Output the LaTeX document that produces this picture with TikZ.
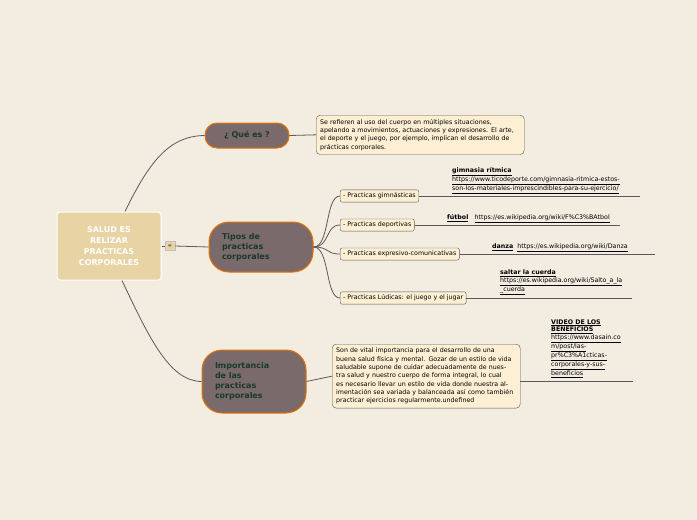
\documentclass[tikz,border=0pt]{standalone}
\usepackage{fontspec}
\setmainfont{DejaVu Sans}
\begin{document}
\begin{tikzpicture}[x=1pt,y=-1pt,
 conn/.style={draw=gray!70!black,line width=0.8pt},
 main/.style={draw=orange!90!black,line width=1pt,fill=mauve,rounded corners=12pt,text=dgreen,font=\fontsize{8}{10}\selectfont\bfseries,align=left,inner sep=0pt},
 note/.style={draw=gray!70!black,fill=notefill,rounded corners=4pt,font=\fontsize{6.3}{8.3}\selectfont,align=left,inner sep=4pt,text width=#1},
 sub/.style={draw=gray!70!black,fill=notefill,rounded corners=2pt,font=\fontsize{6.3}{8}\selectfont,inner sep=3pt,anchor=west},
 lnk/.style={font=\fontsize{6.3}{7.6}\selectfont,align=left,anchor=south west,inner sep=1pt}]
\definecolor{mauve}{HTML}{7B6A6C}
\definecolor{dgreen}{HTML}{173A2C}
\definecolor{notefill}{HTML}{FCEFD3}
\definecolor{bg}{HTML}{F3EDE1}
\useasboundingbox[fill=bg] (0,0) rectangle (697,520);
% central
\node[draw=white,line width=1pt,fill={rgb,255:red,232;green,211;blue,165},rounded corners=3pt,minimum width=104pt,minimum height=68pt,text=white,font=\fontsize{8}{11}\selectfont\bfseries,align=center] (c) at (109,246) {SALUD ES\\RELIZAR\\PRACTICAS\\CORPORALES};
\node[draw=gray!50,fill={rgb,255:red,232;green,211;blue,165},minimum width=10pt,minimum height=9pt,inner sep=0pt,font=\tiny] (eq) at (170,246) {=};
% main nodes
\node[main,minimum width=84pt,minimum height=25pt,align=center] (q) at (247,135.5) {¿ Qué es ?};
\node[main,minimum width=104pt,minimum height=50pt,rounded corners=20pt,text width=78pt] (t) at (261,247) {Tipos de\\practicas\\corporales};
\node[main,minimum width=104pt,minimum height=63pt,rounded corners=20pt,text width=78pt] (i) at (254,381.5) {Importancia\\de las\\practicas\\corporales};
\draw[conn] ([xshift=16pt]c.north) .. controls (150,160) and (170,136) .. (q.west);
\draw[conn] (c.east) -- (eq.west);
\draw[conn] (eq.east) -- (t.west);
\draw[conn] ([xshift=13pt]c.south) .. controls (150,340) and (170,381) .. (i.west);
% notes
\node[note=200pt,anchor=north west] (qn) at (316,115) {Se refieren al uso del cuerpo en múltiples situaciones, apelando a movimientos, actuaciones y expresiones. El arte, el deporte y el juego, por ejemplo, implican el desarrollo de prácticas corporales.};
\draw[conn] (q.east) -- (qn.west);
\node[note=180pt,anchor=north west] (in) at (332,344) {Son de vital importancia para el desarrollo de una buena salud física y mental. Gozar de un estilo de vida saludable supone de cuidar adecuadamente de nuestra salud y nuestro cuerpo de forma integral, lo cual es necesario llevar un estilo de vida donde nuestra alimentación sea variada y balanceada así como también practicar ejercicios regularmente.undefined};
\draw[conn] (i.east) -- (in.west);
\coordinate (ie) at (633,381);
\draw[conn] (in.east|-ie) -- (ie);
\node[lnk,text width=80pt] at (550,379) {\textbf{\underline{VIDEO DE LOS}}\\\textbf{\underline{BENEFICIOS}}\\\underline{https://www.dasain.co}\\\underline{m/post/las-}\\\underline{pr\%C3\%A1cticas-}\\\underline{corporales-y-sus-}\\\underline{beneficios}};
% subs
\node[sub] (s1) at (340,196) {- Practicas gimnásticas};
\node[sub] (s2) at (340,225) {- Practicas deportivas};
\node[sub] (s3) at (340,254) {- Practicas expresivo-comunicativas};
\node[sub] (s4) at (340,298) {- Practicas Lúdicas: el juego y el jugar};
\foreach \s in {s1,s2,s3,s4}{\draw[conn] (t.east) .. controls (330,247) and ([xshift=-15pt]\s.west) .. (\s.west);}
\coordinate (e1) at (640,197); \coordinate (e2) at (620,226); \coordinate (e3) at (655,255); \coordinate (e4) at (632,299);
\draw[conn] (s1.east) -- (e1|-s1.east);
\draw[conn] (s2.east) -- (e2|-s2.east);
\draw[conn] (s3.east) -- (e3|-s3.east);
\draw[conn] (s4.east) -- (e4|-s4.east);
\node[lnk] at (451,195) {\textbf{\underline{gimnasia rítmica}}\\\underline{https://www.ticodeporte.com/gimnasia-ritmica-estos-}\\\underline{son-los-materiales-imprescindibles-para-su-ejercicio/}};
\node[lnk] at (446,224) {\textbf{\underline{fútbol}}\quad\underline{https://es.wikipedia.org/wiki/F\%C3\%BAtbol}};
\node[lnk] at (491,253) {\textbf{\underline{danza}}\ \ \underline{https://es.wikipedia.org/wiki/Danza}};
\node[lnk] at (499,296) {\textbf{\underline{saltar la cuerda}}\\\underline{https://es.wikipedia.org/wiki/Salto\_a\_la}\\\underline{\_cuerda}};
\end{tikzpicture}
\end{document}
